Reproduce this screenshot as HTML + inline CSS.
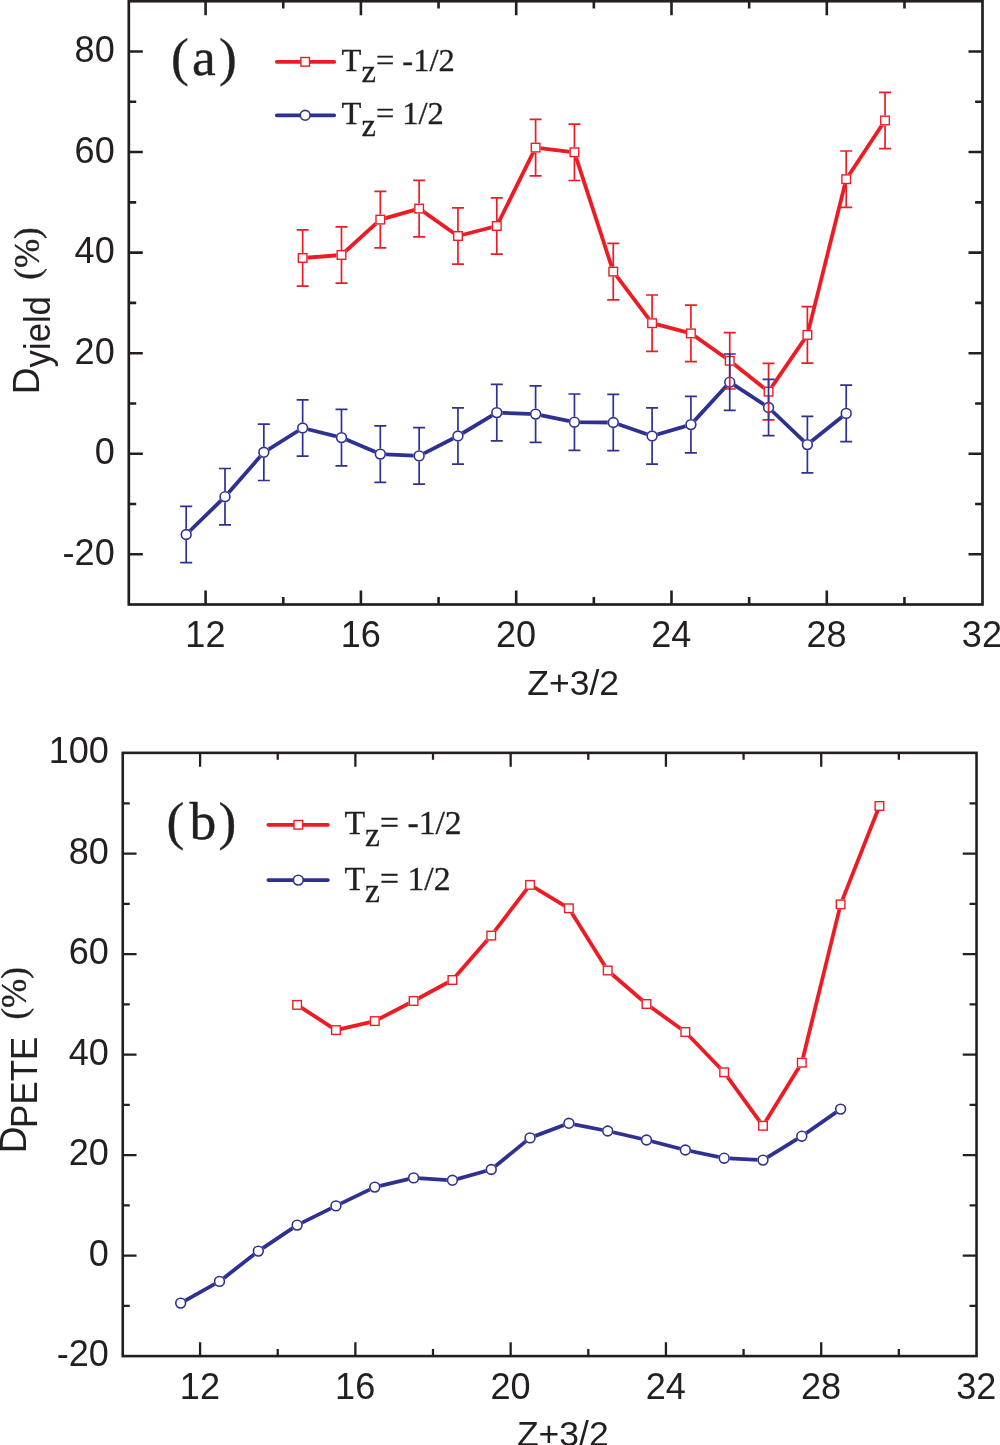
<!DOCTYPE html>
<html lang="en"><head><meta charset="utf-8"><title>Figure</title>
<style>html,body{margin:0;padding:0;background:#fff}svg{display:block}.s{font-family:"Liberation Sans",Arial,sans-serif;fill:#231F20}.t{font-family:"Liberation Serif","Times New Roman",serif;fill:#231F20;stroke:#231F20;stroke-width:.35px}</style></head><body>
<svg width="1000" height="1445" viewBox="0 0 1000 1445">
<rect width="1000" height="1445" fill="#fff"/>
<g stroke="#231F20" fill="none" stroke-linecap="butt">
<rect x="128.8" y="1.2" width="853.7" height="603.3" stroke-width="2.7"/>
<path stroke-width="2.6" d="M128.8 554.31h14 M982.5 554.31h-14 M128.8 453.75h14 M982.5 453.75h-14 M128.8 353.19h14 M982.5 353.19h-14 M128.8 252.63h14 M982.5 252.63h-14 M128.8 152.07h14 M982.5 152.07h-14 M128.8 51.51h14 M982.5 51.51h-14 M128.8 504.03h7.4 M982.5 504.03h-7.4 M128.8 403.47h7.4 M982.5 403.47h-7.4 M128.8 302.91h7.4 M982.5 302.91h-7.4 M128.8 202.35h7.4 M982.5 202.35h-7.4 M128.8 101.79h7.4 M982.5 101.79h-7.4 M205.6 604.5v-14 M205.6 1.2v14 M360.9 604.5v-14 M360.9 1.2v14 M516.2 604.5v-14 M516.2 1.2v14 M671.5 604.5v-14 M671.5 1.2v14 M826.8 604.5v-14 M826.8 1.2v14 M283.25 604.5v-7.4 M283.25 1.2v7.4 M438.55 604.5v-7.4 M438.55 1.2v7.4 M593.85 604.5v-7.4 M593.85 1.2v7.4 M749.15 604.5v-7.4 M749.15 1.2v7.4 M904.45 604.5v-7.4 M904.45 1.2v7.4"/>
</g>
<text class="s" font-size="37" text-anchor="end" transform="translate(114.7,564.81) scale(0.975,1)">-20</text>
<text class="s" font-size="37" text-anchor="end" transform="translate(114.7,464.25) scale(0.975,1)">0</text>
<text class="s" font-size="37" text-anchor="end" transform="translate(114.7,363.69) scale(0.975,1)">20</text>
<text class="s" font-size="37" text-anchor="end" transform="translate(114.7,263.13) scale(0.975,1)">40</text>
<text class="s" font-size="37" text-anchor="end" transform="translate(114.7,162.57) scale(0.975,1)">60</text>
<text class="s" font-size="37" text-anchor="end" transform="translate(114.7,62.01) scale(0.975,1)">80</text>
<text class="s" font-size="37" text-anchor="middle" transform="translate(205.4,647.3) scale(0.975,1)">12</text>
<text class="s" font-size="37" text-anchor="middle" transform="translate(360.7,647.3) scale(0.975,1)">16</text>
<text class="s" font-size="37" text-anchor="middle" transform="translate(516,647.3) scale(0.975,1)">20</text>
<text class="s" font-size="37" text-anchor="middle" transform="translate(671.3,647.3) scale(0.975,1)">24</text>
<text class="s" font-size="37" text-anchor="middle" transform="translate(826.6,647.3) scale(0.975,1)">28</text>
<text class="s" font-size="37" text-anchor="middle" transform="translate(981.9,647.3) scale(0.975,1)">32</text>
<text class="s" font-size="35.5" text-anchor="middle" x="573.2" y="695.2">Z+3/2</text>
<text class="s" font-size="37" transform="translate(39.4,394.2) rotate(-90)">D</text>
<text class="s" font-size="36.5" transform="translate(50.3,367.4) rotate(-90) scale(0.95,1)">yield</text>
<text class="t" font-size="35" transform="translate(39.4,279.7) rotate(-90)">(%)</text>
<text class="t" font-size="53.5" x="171.1 192 219" y="75">(a)</text>
<defs><mask id="mra" maskUnits="userSpaceOnUse" x="0" y="0" width="1000" height="1445"><rect width="1000" height="1445" fill="#fff"/>
<rect x="297.66" y="253" width="10" height="10" fill="#000"/>
<rect x="336.49" y="250" width="10" height="10" fill="#000"/>
<rect x="375.31" y="214.6" width="10" height="10" fill="#000"/>
<rect x="414.14" y="203.6" width="10" height="10" fill="#000"/>
<rect x="452.96" y="231" width="10" height="10" fill="#000"/>
<rect x="491.79" y="221" width="10" height="10" fill="#000"/>
<rect x="530.61" y="142.6" width="10" height="10" fill="#000"/>
<rect x="569.44" y="147.3" width="10" height="10" fill="#000"/>
<rect x="608.26" y="266.6" width="10" height="10" fill="#000"/>
<rect x="647.09" y="318.2" width="10" height="10" fill="#000"/>
<rect x="685.91" y="328.4" width="10" height="10" fill="#000"/>
<rect x="724.74" y="355.8" width="10" height="10" fill="#000"/>
<rect x="763.56" y="386.6" width="10" height="10" fill="#000"/>
<rect x="802.39" y="329.9" width="10" height="10" fill="#000"/>
<rect x="841.21" y="174.2" width="10" height="10" fill="#000"/>
<rect x="880.04" y="115.5" width="10" height="10" fill="#000"/>
</mask><mask id="mba" maskUnits="userSpaceOnUse" x="0" y="0" width="1000" height="1445"><rect width="1000" height="1445" fill="#fff"/>
<circle cx="186.19" cy="534.5" r="5.7" fill="#000"/>
<circle cx="225.01" cy="496.7" r="5.7" fill="#000"/>
<circle cx="263.84" cy="452.3" r="5.7" fill="#000"/>
<circle cx="302.66" cy="428" r="5.7" fill="#000"/>
<circle cx="341.49" cy="437.6" r="5.7" fill="#000"/>
<circle cx="380.31" cy="454.1" r="5.7" fill="#000"/>
<circle cx="419.14" cy="455.9" r="5.7" fill="#000"/>
<circle cx="457.96" cy="436" r="5.7" fill="#000"/>
<circle cx="496.79" cy="412.6" r="5.7" fill="#000"/>
<circle cx="535.61" cy="414.1" r="5.7" fill="#000"/>
<circle cx="574.44" cy="422.2" r="5.7" fill="#000"/>
<circle cx="613.26" cy="422.5" r="5.7" fill="#000"/>
<circle cx="652.09" cy="436" r="5.7" fill="#000"/>
<circle cx="690.91" cy="424.6" r="5.7" fill="#000"/>
<circle cx="729.74" cy="382.2" r="5.7" fill="#000"/>
<circle cx="768.56" cy="407.5" r="5.7" fill="#000"/>
<circle cx="807.39" cy="444.6" r="5.7" fill="#000"/>
<circle cx="846.21" cy="413.4" r="5.7" fill="#000"/>
</mask></defs>
<g mask="url(#mra)"><polyline fill="none" stroke="#ED1C24" stroke-width="3.8" stroke-linejoin="round" points="302.66,258 341.49,255 380.31,219.6 419.14,208.6 457.96,236 496.79,226 535.61,147.6 574.44,152.3 613.26,271.6 652.09,323.2 690.91,333.4 729.74,360.8 768.56,391.6 807.39,334.9 846.21,179.2 885.04,120.5"/></g>
<g fill="none" stroke="#ED1C24" stroke-width="1.4">
<rect x="298.36" y="253.7" width="8.6" height="8.6"/>
<rect x="337.19" y="250.7" width="8.6" height="8.6"/>
<rect x="376.01" y="215.3" width="8.6" height="8.6"/>
<rect x="414.84" y="204.3" width="8.6" height="8.6"/>
<rect x="453.66" y="231.7" width="8.6" height="8.6"/>
<rect x="492.49" y="221.7" width="8.6" height="8.6"/>
<rect x="531.31" y="143.3" width="8.6" height="8.6"/>
<rect x="570.14" y="148" width="8.6" height="8.6"/>
<rect x="608.96" y="267.3" width="8.6" height="8.6"/>
<rect x="647.79" y="318.9" width="8.6" height="8.6"/>
<rect x="686.61" y="329.1" width="8.6" height="8.6"/>
<rect x="725.44" y="356.5" width="8.6" height="8.6"/>
<rect x="764.26" y="387.3" width="8.6" height="8.6"/>
<rect x="803.09" y="330.6" width="8.6" height="8.6"/>
<rect x="841.91" y="174.9" width="8.6" height="8.6"/>
<rect x="880.74" y="116.2" width="8.6" height="8.6"/>
</g>
<g mask="url(#mba)"><polyline fill="none" stroke="#2E3192" stroke-width="3.8" stroke-linejoin="round" points="186.19,534.5 225.01,496.7 263.84,452.3 302.66,428 341.49,437.6 380.31,454.1 419.14,455.9 457.96,436 496.79,412.6 535.61,414.1 574.44,422.2 613.26,422.5 652.09,436 690.91,424.6 729.74,382.2 768.56,407.5 807.39,444.6 846.21,413.4"/></g>
<g fill="none" stroke="#2E3192" stroke-width="1.6">
<circle cx="186.19" cy="534.5" r="4.9"/>
<circle cx="225.01" cy="496.7" r="4.9"/>
<circle cx="263.84" cy="452.3" r="4.9"/>
<circle cx="302.66" cy="428" r="4.9"/>
<circle cx="341.49" cy="437.6" r="4.9"/>
<circle cx="380.31" cy="454.1" r="4.9"/>
<circle cx="419.14" cy="455.9" r="4.9"/>
<circle cx="457.96" cy="436" r="4.9"/>
<circle cx="496.79" cy="412.6" r="4.9"/>
<circle cx="535.61" cy="414.1" r="4.9"/>
<circle cx="574.44" cy="422.2" r="4.9"/>
<circle cx="613.26" cy="422.5" r="4.9"/>
<circle cx="652.09" cy="436" r="4.9"/>
<circle cx="690.91" cy="424.6" r="4.9"/>
<circle cx="729.74" cy="382.2" r="4.9"/>
<circle cx="768.56" cy="407.5" r="4.9"/>
<circle cx="807.39" cy="444.6" r="4.9"/>
<circle cx="846.21" cy="413.4" r="4.9"/>
</g>
<g mask="url(#mra)"><path fill="none" stroke="#ED1C24" stroke-width="1.7" d="M302.66 229.8V286.2 M296.66 229.8h12 M296.66 286.2h12 M341.49 226.8V283.2 M335.49 226.8h12 M335.49 283.2h12 M380.31 191.4V247.8 M374.31 191.4h12 M374.31 247.8h12 M419.14 180.4V236.8 M413.14 180.4h12 M413.14 236.8h12 M457.96 207.8V264.2 M451.96 207.8h12 M451.96 264.2h12 M496.79 197.8V254.2 M490.79 197.8h12 M490.79 254.2h12 M535.61 119.4V175.8 M529.61 119.4h12 M529.61 175.8h12 M574.44 124.1V180.5 M568.44 124.1h12 M568.44 180.5h12 M613.26 243.4V299.8 M607.26 243.4h12 M607.26 299.8h12 M652.09 295V351.4 M646.09 295h12 M646.09 351.4h12 M690.91 305.2V361.6 M684.91 305.2h12 M684.91 361.6h12 M729.74 332.6V389 M723.74 332.6h12 M723.74 389h12 M768.56 363.4V419.8 M762.56 363.4h12 M762.56 419.8h12 M807.39 306.7V363.1 M801.39 306.7h12 M801.39 363.1h12 M846.21 151V207.4 M840.21 151h12 M840.21 207.4h12 M885.04 92.3V148.7 M879.04 92.3h12 M879.04 148.7h12"/></g>
<g mask="url(#mba)"><path fill="none" stroke="#2E3192" stroke-width="1.7" d="M186.19 506.3V562.7 M180.19 506.3h12 M180.19 562.7h12 M225.01 468.5V524.9 M219.01 468.5h12 M219.01 524.9h12 M263.84 424.1V480.5 M257.84 424.1h12 M257.84 480.5h12 M302.66 399.8V456.2 M296.66 399.8h12 M296.66 456.2h12 M341.49 409.4V465.8 M335.49 409.4h12 M335.49 465.8h12 M380.31 425.9V482.3 M374.31 425.9h12 M374.31 482.3h12 M419.14 427.7V484.1 M413.14 427.7h12 M413.14 484.1h12 M457.96 407.8V464.2 M451.96 407.8h12 M451.96 464.2h12 M496.79 384.4V440.8 M490.79 384.4h12 M490.79 440.8h12 M535.61 385.9V442.3 M529.61 385.9h12 M529.61 442.3h12 M574.44 394V450.4 M568.44 394h12 M568.44 450.4h12 M613.26 394.3V450.7 M607.26 394.3h12 M607.26 450.7h12 M652.09 407.8V464.2 M646.09 407.8h12 M646.09 464.2h12 M690.91 396.4V452.8 M684.91 396.4h12 M684.91 452.8h12 M729.74 354V410.4 M723.74 354h12 M723.74 410.4h12 M768.56 379.3V435.7 M762.56 379.3h12 M762.56 435.7h12 M807.39 416.4V472.8 M801.39 416.4h12 M801.39 472.8h12 M846.21 385.2V441.6 M840.21 385.2h12 M840.21 441.6h12"/></g>
<g fill="none" stroke-linecap="round">
<path stroke="#ED1C24" stroke-width="3.8" d="M276.8 61.8H305.2 M305.2 61.8H334.2"/>
<path stroke="#2E3192" stroke-width="3.8" d="M276.8 115.3H305.2 M305.2 115.3H334.2"/>
</g>
<rect x="300.9" y="57.5" width="8.6" height="8.6" fill="#fff" stroke="#ED1C24" stroke-width="1.4"/>
<circle cx="305.2" cy="115.3" r="4.9" fill="#fff" stroke="#2E3192" stroke-width="1.6"/>
<text class="t" font-size="32.5" x="341.6" y="70.7">T<tspan dy="11.7">z</tspan><tspan dy="-11.7">= -1/2</tspan></text>
<text class="t" font-size="32.5" x="341.6" y="124">T<tspan dy="11.7">z</tspan><tspan dy="-11.7">= 1/2</tspan></text>
<g stroke="#231F20" fill="none" stroke-linecap="butt">
<rect x="122.75" y="752.85" width="853.8" height="603.25" stroke-width="2.6"/>
<path stroke-width="2.3" d="M122.75 1255.6h13.8 M976.55 1255.6h-13.8 M122.75 1155.1h13.8 M976.55 1155.1h-13.8 M122.75 1054.6h13.8 M976.55 1054.6h-13.8 M122.75 954.1h13.8 M976.55 954.1h-13.8 M122.75 853.6h13.8 M976.55 853.6h-13.8 M122.75 1305.85h7 M976.55 1305.85h-7 M122.75 1205.35h7 M976.55 1205.35h-7 M122.75 1104.85h7 M976.55 1104.85h-7 M122.75 1004.35h7 M976.55 1004.35h-7 M122.75 903.85h7 M976.55 903.85h-7 M122.75 803.35h7 M976.55 803.35h-7 M200.09 1356.1v-13.8 M200.09 752.85v13.8 M355.37 1356.1v-13.8 M355.37 752.85v13.8 M510.65 1356.1v-13.8 M510.65 752.85v13.8 M665.93 1356.1v-13.8 M665.93 752.85v13.8 M821.21 1356.1v-13.8 M821.21 752.85v13.8 M277.73 1356.1v-7 M277.73 752.85v7 M433.01 1356.1v-7 M433.01 752.85v7 M588.29 1356.1v-7 M588.29 752.85v7 M743.57 1356.1v-7 M743.57 752.85v7 M898.85 1356.1v-7 M898.85 752.85v7"/>
</g>
<text class="s" font-size="37" text-anchor="end" transform="translate(108.9,1366.3) scale(0.975,1)">-20</text>
<text class="s" font-size="37" text-anchor="end" transform="translate(108.9,1265.8) scale(0.975,1)">0</text>
<text class="s" font-size="37" text-anchor="end" transform="translate(108.9,1165.3) scale(0.975,1)">20</text>
<text class="s" font-size="37" text-anchor="end" transform="translate(108.9,1064.8) scale(0.975,1)">40</text>
<text class="s" font-size="37" text-anchor="end" transform="translate(108.9,964.3) scale(0.975,1)">60</text>
<text class="s" font-size="37" text-anchor="end" transform="translate(108.9,863.8) scale(0.975,1)">80</text>
<text class="s" font-size="37" text-anchor="end" transform="translate(108.9,763.3) scale(0.975,1)">100</text>
<text class="s" font-size="37" text-anchor="middle" transform="translate(199.89,1398.9) scale(0.975,1)">12</text>
<text class="s" font-size="37" text-anchor="middle" transform="translate(355.17,1398.9) scale(0.975,1)">16</text>
<text class="s" font-size="37" text-anchor="middle" transform="translate(510.45,1398.9) scale(0.975,1)">20</text>
<text class="s" font-size="37" text-anchor="middle" transform="translate(665.73,1398.9) scale(0.975,1)">24</text>
<text class="s" font-size="37" text-anchor="middle" transform="translate(821.01,1398.9) scale(0.975,1)">28</text>
<text class="s" font-size="37" text-anchor="middle" transform="translate(976.29,1398.9) scale(0.975,1)">32</text>
<text class="s" font-size="35.5" text-anchor="middle" x="562.8" y="1446.2">Z+3/2</text>
<text class="s" font-size="37" transform="translate(25.7,1153.3) rotate(-90)">D</text>
<text class="s" font-size="37" transform="translate(36.7,1127.9) rotate(-90) scale(0.945,1)">PETE</text>
<text class="t" font-size="35" transform="translate(25.8,1019.6) rotate(-90)">(%)</text>
<text class="t" font-size="53.5" x="166.5 189.6 218.5" y="838.8">(b)</text>
<defs><mask id="mrb" maskUnits="userSpaceOnUse" x="0" y="0" width="1000" height="1445"><rect width="1000" height="1445" fill="#fff"/>
<rect x="292.14" y="999.9" width="10" height="10" fill="#000"/>
<rect x="330.96" y="1025.1" width="10" height="10" fill="#000"/>
<rect x="369.78" y="1016.1" width="10" height="10" fill="#000"/>
<rect x="408.6" y="996" width="10" height="10" fill="#000"/>
<rect x="447.42" y="975" width="10" height="10" fill="#000"/>
<rect x="486.24" y="930.6" width="10" height="10" fill="#000"/>
<rect x="525.06" y="879.9" width="10" height="10" fill="#000"/>
<rect x="563.88" y="903.3" width="10" height="10" fill="#000"/>
<rect x="602.7" y="965.5" width="10" height="10" fill="#000"/>
<rect x="641.52" y="999" width="10" height="10" fill="#000"/>
<rect x="680.34" y="1027" width="10" height="10" fill="#000"/>
<rect x="719.16" y="1067.3" width="10" height="10" fill="#000"/>
<rect x="757.98" y="1120.8" width="10" height="10" fill="#000"/>
<rect x="796.8" y="1057.7" width="10" height="10" fill="#000"/>
<rect x="835.62" y="899.4" width="10" height="10" fill="#000"/>
<rect x="874.44" y="801" width="10" height="10" fill="#000"/>
</mask><mask id="mbb" maskUnits="userSpaceOnUse" x="0" y="0" width="1000" height="1445"><rect width="1000" height="1445" fill="#fff"/>
<circle cx="180.68" cy="1303.1" r="5.7" fill="#000"/>
<circle cx="219.5" cy="1281.4" r="5.7" fill="#000"/>
<circle cx="258.32" cy="1251.1" r="5.7" fill="#000"/>
<circle cx="297.14" cy="1225.1" r="5.7" fill="#000"/>
<circle cx="335.96" cy="1205.9" r="5.7" fill="#000"/>
<circle cx="374.78" cy="1187.1" r="5.7" fill="#000"/>
<circle cx="413.6" cy="1177.9" r="5.7" fill="#000"/>
<circle cx="452.42" cy="1180.3" r="5.7" fill="#000"/>
<circle cx="491.24" cy="1169.5" r="5.7" fill="#000"/>
<circle cx="530.06" cy="1137.9" r="5.7" fill="#000"/>
<circle cx="568.88" cy="1123.3" r="5.7" fill="#000"/>
<circle cx="607.7" cy="1131" r="5.7" fill="#000"/>
<circle cx="646.52" cy="1140" r="5.7" fill="#000"/>
<circle cx="685.34" cy="1150" r="5.7" fill="#000"/>
<circle cx="724.16" cy="1158.2" r="5.7" fill="#000"/>
<circle cx="762.98" cy="1160.1" r="5.7" fill="#000"/>
<circle cx="801.8" cy="1136.2" r="5.7" fill="#000"/>
<circle cx="840.62" cy="1109.1" r="5.7" fill="#000"/>
</mask></defs>
<g mask="url(#mrb)"><polyline fill="none" stroke="#ED1C24" stroke-width="3.8" stroke-linejoin="round" points="297.14,1004.9 335.96,1030.1 374.78,1021.1 413.6,1001 452.42,980 491.24,935.6 530.06,884.9 568.88,908.3 607.7,970.5 646.52,1004 685.34,1032 724.16,1072.3 762.98,1125.8 801.8,1062.7 840.62,904.4 879.44,806"/></g>
<g fill="none" stroke="#ED1C24" stroke-width="1.4">
<rect x="292.84" y="1000.6" width="8.6" height="8.6"/>
<rect x="331.66" y="1025.8" width="8.6" height="8.6"/>
<rect x="370.48" y="1016.8" width="8.6" height="8.6"/>
<rect x="409.3" y="996.7" width="8.6" height="8.6"/>
<rect x="448.12" y="975.7" width="8.6" height="8.6"/>
<rect x="486.94" y="931.3" width="8.6" height="8.6"/>
<rect x="525.76" y="880.6" width="8.6" height="8.6"/>
<rect x="564.58" y="904" width="8.6" height="8.6"/>
<rect x="603.4" y="966.2" width="8.6" height="8.6"/>
<rect x="642.22" y="999.7" width="8.6" height="8.6"/>
<rect x="681.04" y="1027.7" width="8.6" height="8.6"/>
<rect x="719.86" y="1068" width="8.6" height="8.6"/>
<rect x="758.68" y="1121.5" width="8.6" height="8.6"/>
<rect x="797.5" y="1058.4" width="8.6" height="8.6"/>
<rect x="836.32" y="900.1" width="8.6" height="8.6"/>
<rect x="875.14" y="801.7" width="8.6" height="8.6"/>
</g>
<g mask="url(#mbb)"><polyline fill="none" stroke="#2E3192" stroke-width="3.8" stroke-linejoin="round" points="180.68,1303.1 219.5,1281.4 258.32,1251.1 297.14,1225.1 335.96,1205.9 374.78,1187.1 413.6,1177.9 452.42,1180.3 491.24,1169.5 530.06,1137.9 568.88,1123.3 607.7,1131 646.52,1140 685.34,1150 724.16,1158.2 762.98,1160.1 801.8,1136.2 840.62,1109.1"/></g>
<g fill="none" stroke="#2E3192" stroke-width="1.6">
<circle cx="180.68" cy="1303.1" r="4.9"/>
<circle cx="219.5" cy="1281.4" r="4.9"/>
<circle cx="258.32" cy="1251.1" r="4.9"/>
<circle cx="297.14" cy="1225.1" r="4.9"/>
<circle cx="335.96" cy="1205.9" r="4.9"/>
<circle cx="374.78" cy="1187.1" r="4.9"/>
<circle cx="413.6" cy="1177.9" r="4.9"/>
<circle cx="452.42" cy="1180.3" r="4.9"/>
<circle cx="491.24" cy="1169.5" r="4.9"/>
<circle cx="530.06" cy="1137.9" r="4.9"/>
<circle cx="568.88" cy="1123.3" r="4.9"/>
<circle cx="607.7" cy="1131" r="4.9"/>
<circle cx="646.52" cy="1140" r="4.9"/>
<circle cx="685.34" cy="1150" r="4.9"/>
<circle cx="724.16" cy="1158.2" r="4.9"/>
<circle cx="762.98" cy="1160.1" r="4.9"/>
<circle cx="801.8" cy="1136.2" r="4.9"/>
<circle cx="840.62" cy="1109.1" r="4.9"/>
</g>
<g fill="none" stroke-linecap="round">
<path stroke="#ED1C24" stroke-width="3.8" d="M268.4 824.8H298.3 M298.3 824.8H327.9"/>
<path stroke="#2E3192" stroke-width="3.8" d="M268.4 880.1H298.3 M298.3 880.1H327.9"/>
</g>
<rect x="294" y="820.5" width="8.6" height="8.6" fill="#fff" stroke="#ED1C24" stroke-width="1.4"/>
<circle cx="298.3" cy="880.1" r="4.9" fill="#fff" stroke="#2E3192" stroke-width="1.6"/>
<text class="t" font-size="33.7" x="344.5" y="834.2">T<tspan dy="12.2">z</tspan><tspan dy="-12.2">= -1/2</tspan></text>
<text class="t" font-size="33.7" x="344.5" y="889.5">T<tspan dy="12.2">z</tspan><tspan dy="-12.2">= 1/2</tspan></text>
</svg></body></html>
